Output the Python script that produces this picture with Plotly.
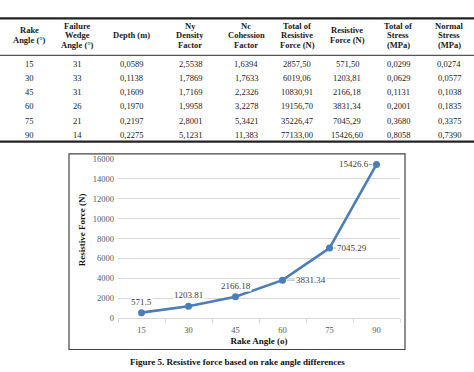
import plotly.graph_objects as go

W, H = 474, 372

# ---- data ----
rake_angle = [15, 30, 45, 60, 75, 90]
failure_wedge = [31, 33, 31, 26, 21, 14]
depth = ["0,0589", "0,1138", "0,1609", "0,1970", "0,2197", "0,2275"]
ny_factor = ["2,5538", "1,7869", "1,7169", "1,9958", "2,8001", "5,1231"]
nc_factor = ["1,6394", "1,7633", "2,2326", "3,2278", "5,3421", "11,383"]
total_resistive = ["2857,50", "6019,06", "10830,91", "19156,70", "35226,47", "77133,00"]
resistive_force = [571.5, 1203.81, 2166.18, 3831.34, 7045.29, 15426.6]
total_stress = ["0,0299", "0,0629", "0,1131", "0,2001", "0,3680", "0,8058"]
normal_stress = ["0,0274", "0,0577", "0,1038", "0,1835", "0,3375", "0,7390"]

headers = [["Rake", "Angle (°)"], ["Failure", "Wedge", "Angle (°)"], ["Depth (m)"],
           ["Ny", "Density", "Factor"], ["Nc", "Cohession", "Factor"],
           ["Total of", "Resistive", "Force (N)"], ["Resistive", "Force (N)"],
           ["Total of", "Stress", "(MPa)"], ["Normal", "Stress", "(MPa)"]]
x_labels = [str(a) for a in rake_angle]
y_ticks = [0, 2000, 4000, 6000, 8000, 10000, 12000, 14000, 16000]

SERIF = "Liberation Serif"
LINE = "#4a7dbb"

# layout constants (pixels)
COL_CENTERS = [29, 77, 131, 190, 246, 297, 347, 398, 449]
HEADER_MID, HEADER_STEP = 31, 9.6
ROW0, ROW_STEP = 60.5, 14.55


def py(px):
    return 1 - px / H


def comma(v):
    return f"{v:.2f}".replace(".", ",")


fig = go.Figure()

# ---- table (text as annotations) ----
columns = [rake_angle, failure_wedge, depth, ny_factor, nc_factor,
           total_resistive, [comma(v) for v in resistive_force],
           total_stress, normal_stress]
for cx, head, col in zip(COL_CENTERS, headers, columns):
    n = len(head)
    for k, line in enumerate(head):
        yy = HEADER_MID + (k - (n - 1) / 2) * HEADER_STEP
        fig.add_annotation(xref="paper", yref="paper", x=cx / W, y=py(yy),
                           xanchor="center", yanchor="middle",
                           text=f"<b>{line}</b>", showarrow=False,
                           font=dict(family=SERIF, size=8.5, color="#1a1a1a"))
    for r, val in enumerate(col):
        fig.add_annotation(xref="paper", yref="paper", x=cx / W, y=py(ROW0 + r * ROW_STEP),
                           xanchor="center", yanchor="middle",
                           text=str(val), showarrow=False,
                           font=dict(family=SERIF, size=8.5, color="#222"))

# ---- chart ----
fig.add_trace(go.Scatter(
    x=x_labels, y=resistive_force, mode="lines+markers",
    line=dict(color=LINE, width=2.6),
    marker=dict(color=LINE, size=7),
    cliponaxis=False, showlegend=False, hoverinfo="skip",
))

# data labels (x given as category index)
label_pos = [("above", 0), ("above", 0), ("above", 0), ("right", 28), ("right", 22), ("left", -23)]
for i, (yv, (kind, off)) in enumerate(zip(resistive_force, label_pos)):
    txt = f"{yv:g}"
    if kind == "above":
        fig.add_annotation(x=i, y=yv, text=txt, showarrow=False, yshift=11,
                           xanchor="center", yanchor="middle", bgcolor="white", borderpad=0,
                           font=dict(family=SERIF, size=9, color="#404040"))
    else:
        fig.add_annotation(x=i, y=yv, text=txt, showarrow=True, ax=off, ay=0,
                           arrowhead=0, arrowwidth=0.8, arrowcolor="#999",
                           bgcolor="white", borderpad=0,
                           standoff=4, font=dict(family=SERIF, size=9, color="#404040"))

fig.update_xaxes(
    type="category", domain=[118 / W, 400 / W], range=[-0.5, len(x_labels) - 0.5],
    autorange=False,
    showgrid=False, showline=True, linecolor="#d9d9d9", linewidth=1,
    ticks="outside", tickson="boundaries", ticklen=4, tickcolor="#d9d9d9",
    ticklabelstandoff=3,
    tickfont=dict(family=SERIF, size=8.5, color="#595959"),
    title=dict(text="<b>Rake Angle (o)</b>", font=dict(family=SERIF, size=9, color="#111"), standoff=4),
    fixedrange=True,
)
fig.update_yaxes(
    domain=[py(322), py(158)], range=[0, 16000], autorange=False,
    tickvals=y_ticks, ticktext=[str(t) for t in y_ticks],
    showgrid=True, gridcolor="#d9d9d9", gridwidth=1, zeroline=False,
    showline=False, ticks="", ticklabelstandoff=3,
    tickfont=dict(family=SERIF, size=8.5, color="#595959"),
    fixedrange=True,
)

# y axis title placed like the reference
fig.add_annotation(xref="paper", yref="paper", x=81.5 / W, y=py(231), textangle=-90,
                   xanchor="center", yanchor="middle", showarrow=False,
                   text="<b>Resistive Force (N)</b>",
                   font=dict(family=SERIF, size=9, color="#111"))

shapes = [
    dict(type="rect", xref="paper", yref="paper", x0=69 / W, x1=405 / W, y0=py(354), y1=py(153),
         line=dict(color="#444", width=1.2), fillcolor="rgba(0,0,0,0)", layer="above"),
    dict(type="line", xref="paper", yref="paper", x0=0, x1=1, y0=py(13.7), y1=py(13.7),
         line=dict(color="#222", width=2.2), layer="above"),
    dict(type="line", xref="paper", yref="paper", x0=0, x1=1, y0=py(51.8), y1=py(51.8),
         line=dict(color="#555", width=1.4), layer="above"),
    dict(type="line", xref="paper", yref="paper", x0=0, x1=1, y0=py(140.5), y1=py(140.5),
         line=dict(color="#222", width=2.2), layer="above"),
]

fig.add_annotation(xref="paper", yref="paper", x=0.5, y=py(367),
                   xanchor="center", yanchor="middle",
                   text="<b>Figure 5. Resistive force based on rake angle differences</b>",
                   showarrow=False, font=dict(family=SERIF, size=9, color="#111"))

fig.update_layout(
    width=W, height=H, margin=dict(l=0, r=0, t=0, b=0),
    paper_bgcolor="white", plot_bgcolor="white", shapes=shapes,
    showlegend=False,
)

fig.write_html("out.html", config={"displayModeBar": False},
               post_script="document.body.style.margin='0';document.body.style.overflow='hidden';")
